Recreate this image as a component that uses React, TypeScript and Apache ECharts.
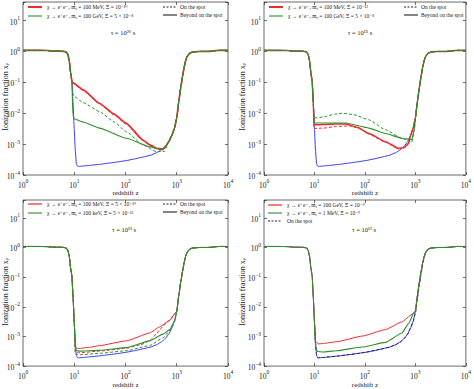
import React, { useEffect, useRef } from "react";
import * as echarts from "echarts";

type P = [number, number];

// Standard (no dark matter) ionization history: [redshift z, x_e]
const baseline: P[] = [
  [1, 1.08], [2, 1.08], [3, 1.07], [3.5, 1.04], [4, 1.02], [5, 1.02], [6, 1.01], [6.5, 0.99],
  [7, 0.95], [7.5, 0.8], [8, 0.5], [8.5, 0.2], [9, 0.11], [9.5, 0.02], [10, 3e-3], [10.5, 6e-4],
  [11, 2.3e-4], [11.5, 1.95e-4], [12, 1.9e-4], [15, 1.95e-4], [20, 2.05e-4], [30, 2.2e-4],
  [50, 2.45e-4], [70, 2.65e-4], [100, 2.9e-4], [150, 3.3e-4], [200, 3.7e-4], [300, 4.3e-4],
  [400, 5.2e-4], [500, 6.5e-4], [600, 8.5e-4], [700, 1.2e-3], [800, 1.9e-3], [900, 3.2e-3],
  [1000, 7e-3], [1100, 0.025], [1200, 0.07], [1300, 0.16], [1400, 0.32], [1500, 0.52],
  [1600, 0.7], [1800, 0.88], [2000, 0.95], [2500, 0.99], [3000, 1.0], [4000, 1.0],
  [5000, 1.02], [5500, 1.05], [6000, 1.07], [7000, 1.08], [10000, 1.08],
];

// Panel 1 (tau = 1e20 s)
const p1RedSolid: P[] = [[9.2, 0.1], [15, 0.057], [31, 0.021], [60, 9.3e-3], [104, 4.7e-3], [219, 1.36e-3], [300, 9.5e-4], [400, 7.3e-4], [540, 7e-4], [620, 9e-4]];
const p1RedDash: P[] = [[9.2, 0.095], [15, 0.054], [31, 0.02], [60, 8.8e-3], [104, 4.4e-3], [219, 1.3e-3], [300, 9e-4], [400, 7e-4], [540, 6.8e-4], [620, 8.6e-4]];
const p1GreenSolid: P[] = [[9.4, 9e-3], [10, 6.5e-3], [15, 5.2e-3], [31, 3.3e-3], [104, 1.55e-3], [295, 8.3e-4], [540, 6.5e-4], [620, 8.6e-4]];
const p1GreenDash: P[] = [[9.3, 0.045], [10, 0.035], [15, 0.022], [31, 0.0113], [60, 5.2e-3], [104, 2.5e-3], [219, 9.4e-4], [400, 5.7e-4], [580, 5.8e-4], [680, 1.1e-3]];

// Panel 2 (tau = 1e15 s)
const p2RedSolid: P[] = [[9.8, 4.2e-3], [15, 4.3e-3], [25, 4.5e-3], [42, 4.5e-3], [70, 3.5e-3], [120, 2.2e-3], [255, 1.2e-3], [464, 7.3e-4], [600, 7.8e-4], [730, 1.05e-3]];
const p2RedDash: P[] = [[9.8, 3.2e-3], [15, 3.3e-3], [27, 3.7e-3], [49, 3.9e-3], [80, 3.2e-3], [120, 2.1e-3], [255, 1.15e-3], [464, 7e-4], [600, 7.6e-4], [730, 1e-3]];
const p2GreenSolid: P[] = [[9.8, 4.8e-3], [20, 4.8e-3], [42, 4.8e-3], [120, 3.3e-3], [255, 2.2e-3], [540, 1.55e-3], [850, 1.4e-3], [950, 3e-3]];
const p2GreenDash: P[] = [[9.8, 7e-3], [15, 7.5e-3], [25, 9.3e-3], [36, 1e-2], [60, 9e-3], [120, 6.1e-3], [255, 2.9e-3], [540, 1.55e-3], [850, 1.15e-3], [960, 3e-3]];

// Panel 3 (tau = 1e13 s)
const p3RedSolid: P[] = [[10.5, 4.2e-4], [12, 3.9e-4], [20, 4.3e-4], [31, 4.9e-4], [104, 7.1e-4], [295, 1.3e-3], [464, 2.1e-3], [730, 3.5e-3], [910, 5.8e-3]];
const p3RedDash: P[] = [[10.5, 3e-4], [12, 2.8e-4], [31, 3.2e-4], [104, 4e-4], [200, 5.3e-4], [295, 7.1e-4], [400, 1.2e-3], [464, 1.7e-3], [620, 2.8e-3], [730, 3.5e-3], [910, 5.8e-3]];
const p3GreenSolid: P[] = [[10.5, 3.6e-4], [12, 3.2e-4], [31, 3.4e-4], [104, 4.2e-4], [295, 7.1e-4], [540, 1.2e-3], [730, 1.7e-3], [910, 3.4e-3]];
const p3GreenDash: P[] = [[10.5, 2.6e-4], [12, 2.4e-4], [31, 2.7e-4], [104, 3.3e-4], [295, 4.9e-4], [540, 9e-4], [780, 1.8e-3], [910, 3.3e-3]];

// Panel 4 (tau = 1e12 s)
const p4RedSolid: P[] = [[10.5, 7e-4], [11.8, 5.6e-4], [15, 5.8e-4], [27, 6.6e-4], [89, 1.03e-3], [255, 1.7e-3], [540, 3.1e-3], [850, 5.5e-3], [940, 6.5e-3]];
const p4GreenSolid: P[] = [[10.5, 4.2e-4], [11.5, 3.1e-4], [15, 3e-4], [27, 3.3e-4], [89, 4.4e-4], [255, 6.3e-4], [540, 1.3e-3], [730, 2.7e-3], [940, 6.5e-3]];
const p4OnSpot: P[] = [[1000, 6e-3], [1100, 0.02], [1200, 0.055], [1300, 0.13], [1400, 0.27], [1500, 0.47], [1600, 0.66]];

const legend1 = ["χ → e⁺e⁻, mᵪ = 100 MeV, Ξ = 10⁻¹⁰", "χ → e⁺e⁻, mᵪ = 100 GeV, Ξ = 5 × 10⁻⁸"];
const legend2 = ["χ → e⁺e⁻, mᵪ = 100 MeV, Ξ = 10⁻¹²", "χ → e⁺e⁻, mᵪ = 100 GeV, Ξ = 5 × 10⁻⁸"];
const legend3 = ["χ → e⁺e⁻, mᵪ = 100 MeV, Ξ = 5 × 10⁻¹⁰", "χ → e⁺e⁻, mᵪ = 100 keV, Ξ = 5 × 10⁻¹¹"];
const legend4 = ["χ → e⁺e⁻, mᵪ = 100 GeV, Ξ = 10⁻⁹", "χ → e⁺e⁻, mᵪ = 1 MeV, Ξ = 10⁻⁹", "On the spot"];
const styleLegend = ["On the spot", "Beyond on the spot"];
const tauLabels = ["τ = 10²⁰ s", "τ = 10¹⁵ s", "τ = 10¹³ s", "τ = 10¹² s"];
const xName = "redshift z";
const yName = "Ionization fraction xₑ";

const FONT = '"Liberation Serif", "DejaVu Serif", serif';
const BLUE = "#3b3bf5";
const RED = "#ee2a2a";
const GREEN = "#2f8f2f";
const TXT = "#222";

function compose(knots: P[]): P[] {
  const z0 = knots[0][0];
  const z1 = knots[knots.length - 1][0];
  return [...baseline.filter((p) => p[0] < z0), ...knots, ...baseline.filter((p) => p[0] > z1)];
}
function composeLate(knots: P[]): P[] {
  return compose(knots).filter((p) => p[0] >= 10);
}

const pow10Label = (v: number) => {
  const l = Math.log10(v);
  const e = Math.round(l);
  if (Math.abs(l - e) > 1e-6) return "";
  return `{b|10}{s|${e < 0 ? "−" + -e : e}}`;
};

const rich = {
  b: { fontSize: 7.5, fontFamily: FONT, color: TXT, lineHeight: 11, verticalAlign: "bottom" },
  s: { fontSize: 5.5, fontFamily: FONT, color: TXT, lineHeight: 11, verticalAlign: "top" },
};

const grids = [
  { left: 23, top: 2, width: 205, height: 173 },
  { left: 264, top: 2, width: 205, height: 173 },
  { left: 23, top: 200, width: 205, height: 173 },
  { left: 264, top: 200, width: 205, height: 173 },
];

type Curve = { d: P[]; c: string; w: number; dash?: boolean };
const panels: Curve[][] = [
  [
    { d: baseline, c: BLUE, w: 1 },
    { d: compose(p1RedSolid), c: RED, w: 1.7 },
    { d: compose(p1RedDash), c: RED, w: 1, dash: true },
    { d: compose(p1GreenSolid), c: GREEN, w: 1.1 },
    { d: compose(p1GreenDash), c: GREEN, w: 1, dash: true },
  ],
  [
    { d: baseline, c: BLUE, w: 1 },
    { d: compose(p2RedSolid), c: RED, w: 1.5 },
    { d: compose(p2RedDash), c: RED, w: 1, dash: true },
    { d: compose(p2GreenSolid), c: GREEN, w: 1.1 },
    { d: compose(p2GreenDash), c: GREEN, w: 1, dash: true },
  ],
  [
    { d: baseline, c: BLUE, w: 1 },
    { d: compose(p3RedSolid), c: RED, w: 1 },
    { d: compose(p3RedDash), c: RED, w: 1, dash: true },
    { d: compose(p3GreenSolid), c: GREEN, w: 1.1 },
    { d: compose(p3GreenDash), c: GREEN, w: 1, dash: true },
  ],
  [
    { d: baseline, c: BLUE, w: 1 },
    { d: composeLate(p4OnSpot), c: "#222255", w: 1, dash: true },
    { d: compose(p4RedSolid), c: RED, w: 1 },
    { d: compose(p4GreenSolid), c: GREEN, w: 1.1 },
  ],
];

function buildOption() {
  const xAxis: any[] = [];
  const yAxis: any[] = [];
  const tick = { inside: true, length: 3, lineStyle: { color: "#333", width: 0.7 } };
  grids.forEach((_, i) => {
    xAxis.push({
      type: "log", logBase: 10, gridIndex: i, min: 1, max: 1e4, position: "bottom",
      axisLine: { show: false }, splitLine: { show: false }, axisTick: tick,
      axisLabel: { formatter: pow10Label, rich, margin: 3, showMinLabel: true, showMaxLabel: true },
      name: xName, nameLocation: "middle", nameGap: 12,
      nameTextStyle: { fontFamily: FONT, fontSize: 7, color: TXT },
    });
    yAxis.push({
      type: "log", logBase: 10, gridIndex: i, min: 1e-4, max: Math.pow(10, 1.6), position: "left",
      axisLine: { show: false }, splitLine: { show: false }, axisTick: tick,
      axisLabel: { formatter: pow10Label, rich, margin: 3 },
    });
  });
  grids.forEach((_, i) => {
    xAxis.push({
      type: "log", logBase: 10, gridIndex: i, min: 1, max: 1e4, position: "top",
      axisLine: { show: false }, splitLine: { show: false }, axisTick: tick,
      axisLabel: { show: false },
    });
    yAxis.push({
      type: "log", logBase: 10, gridIndex: i, min: 1e-4, max: Math.pow(10, 1.6), position: "right",
      axisLine: { show: false }, splitLine: { show: false }, axisTick: tick,
      axisLabel: { show: false },
    });
  });

  const series: any[] = [];
  panels.forEach((curves, i) => {
    curves.forEach((cv, k) => {
      series.push({
        type: "line", xAxisIndex: i, yAxisIndex: i, data: cv.d, symbol: "none",
        smooth: 0.15, smoothMonotone: "x", silent: true, z: 2 + k,
        lineStyle: { color: cv.c, width: cv.w, type: cv.dash ? [3, 2] : "solid" },
      });
    });
  });

  const graphic: any[] = [];
  const txt = (x: number, y: number, text: string, size = 5.5, align = "left") => ({
    type: "text", x, y, silent: true,
    style: { text, fontFamily: FONT, fontSize: size, fill: TXT, align, verticalAlign: "middle" },
  });
  const sample = (x: number, y: number, color: string, w: number, dash?: boolean) => ({
    type: "line", silent: true,
    shape: { x1: x, y1: y, x2: x + 14, y2: y },
    style: { stroke: color, lineWidth: w, lineDash: dash ? [2, 1.5] : null },
  });
  const colorLegends = [
    { x: 28, tx: 47, ys: [7, 16], labels: legend1, redW: 2 },
    { x: 269, tx: 288, ys: [7, 16], labels: legend2, redW: 2 },
    { x: 28, tx: 47, ys: [204, 213], labels: legend3, redW: 1.2 },
    { x: 268, tx: 287, ys: [205, 213, 221], labels: legend4, redW: 1.2 },
  ];
  colorLegends.forEach((L) => {
    L.labels.forEach((lab, j) => {
      const color = j === 0 ? RED : j === 1 ? GREEN : "#222";
      graphic.push(sample(L.x, L.ys[j], color, j === 0 ? L.redW : 1.1, j === 2));
      graphic.push(txt(L.tx, L.ys[j], lab));
    });
  });
  const styleLegends = [
    { x: 163, tx: 180, ys: [7, 15] },
    { x: 404, tx: 421, ys: [7, 15] },
    { x: 163, tx: 180, ys: [204, 212] },
  ];
  styleLegends.forEach((L) => {
    styleLegend.forEach((lab, j) => {
      graphic.push(sample(L.x, L.ys[j], "#222", 1.1, j === 0));
      graphic.push(txt(L.tx, L.ys[j], lab));
    });
  });
  const tauPos = [[123, 32], [360, 32], [124, 229], [364, 229]];
  tauLabels.forEach((t, i) => graphic.push(txt(tauPos[i][0], tauPos[i][1], t, 6.5, "center")));
  [[5, 97], [242, 97], [5, 292], [242, 292]].forEach(([x, y]) => {
    graphic.push({
      type: "text", x, y, rotation: Math.PI / 2, silent: true,
      style: { text: yName, fontFamily: FONT, fontSize: 8, fill: TXT, align: "center", verticalAlign: "middle" },
    });
  });

  return {
    animation: false,
    backgroundColor: "#fff",
    grid: grids.map((g) => ({ ...g, show: true, borderColor: "#444", borderWidth: 0.8, backgroundColor: "transparent" })),
    xAxis,
    yAxis,
    series,
    graphic,
  };
}

export default function App() {
  const ref = useRef<HTMLDivElement>(null);
  useEffect(() => {
    if (!ref.current) return;
    const chart = echarts.init(ref.current, undefined, { renderer: "svg" });
    chart.setOption(buildOption() as any);
    return () => chart.dispose();
  }, []);
  return <div ref={ref} style={{ position: "absolute", left: 0, top: 0, width: 474, height: 389, background: "#fff" }} />;
}
